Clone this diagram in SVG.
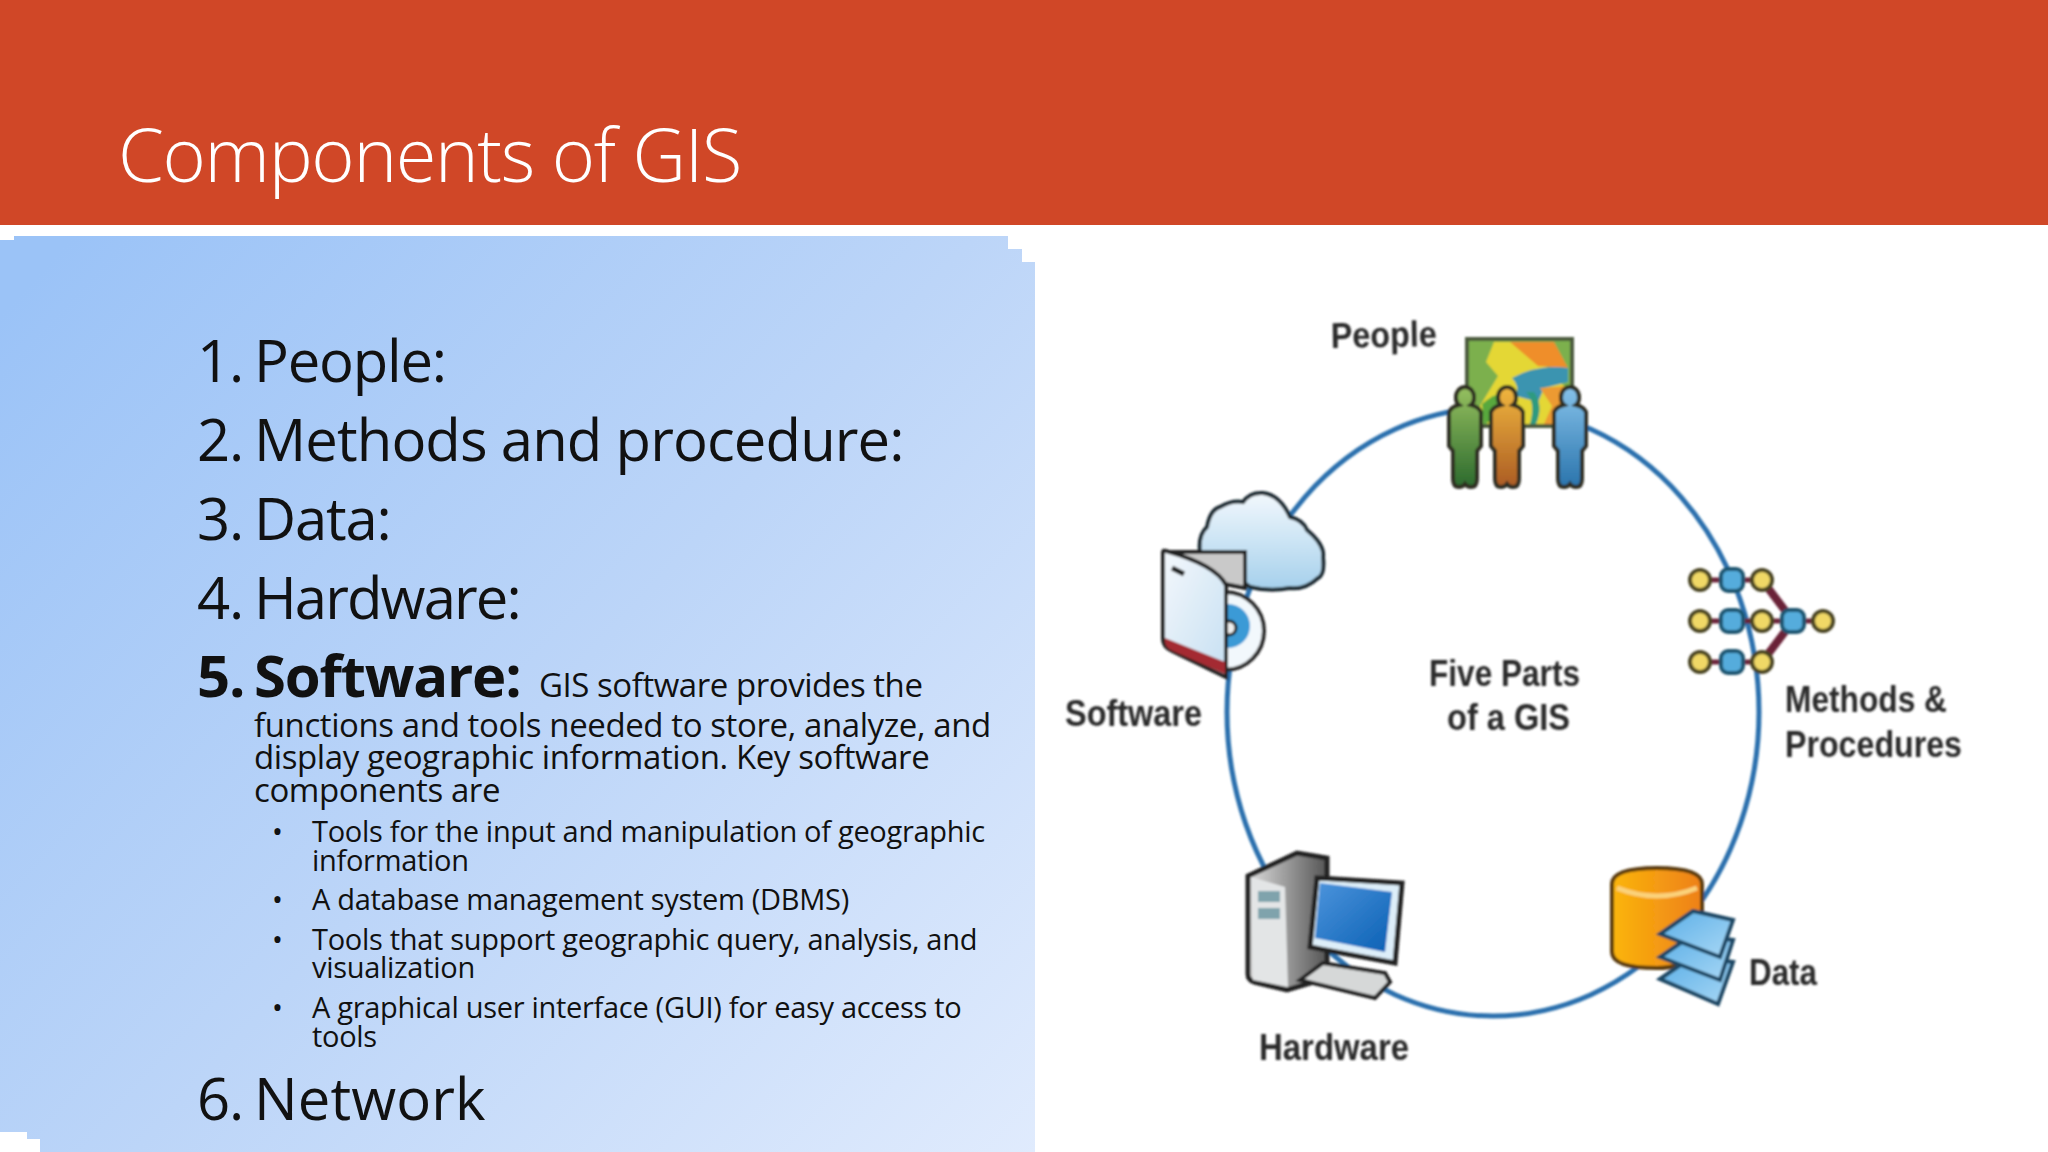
<svg xmlns="http://www.w3.org/2000/svg" width="2048" height="1152" viewBox="0 0 2048 1152">
<defs>
<linearGradient id="panel" gradientUnits="userSpaceOnUse" x1="60" y1="250" x2="1040" y2="1150"><stop offset="0" stop-color="#9bc3f7"/><stop offset="0.5" stop-color="#bcd5f8"/><stop offset="1" stop-color="#e0ebfd"/></linearGradient>
<linearGradient id="cyl" x1="0" x2="1" y1="0" y2="0"><stop offset="0" stop-color="#fbb50c"/><stop offset="1" stop-color="#ee8018"/></linearGradient>
<linearGradient id="sheet" x1="0" x2="1" y1="0" y2="1"><stop offset="0" stop-color="#5aaee6"/><stop offset="1" stop-color="#a9d8f6"/></linearGradient>
<linearGradient id="cloud" x1="0" x2="0" y1="0" y2="1"><stop offset="0" stop-color="#f2f8fd"/><stop offset="1" stop-color="#a5d0ec"/></linearGradient>
<linearGradient id="pg" x1="0" x2="0" y1="0" y2="1"><stop offset="0" stop-color="#96c060"/><stop offset="1" stop-color="#2c6a2e"/></linearGradient>
<linearGradient id="po" x1="0" x2="0" y1="0" y2="1"><stop offset="0" stop-color="#f0b63e"/><stop offset="1" stop-color="#ab5c24"/></linearGradient>
<linearGradient id="pb" x1="0" x2="0" y1="0" y2="1"><stop offset="0" stop-color="#86c2ea"/><stop offset="1" stop-color="#2a74ac"/></linearGradient>
<linearGradient id="screen" x1="0" x2="1" y1="0" y2="1"><stop offset="0" stop-color="#4c94dc"/><stop offset="1" stop-color="#0a60b4"/></linearGradient>
<linearGradient id="tower" x1="0" x2="1" y1="0" y2="0"><stop offset="0" stop-color="#ddd"/><stop offset="1" stop-color="#555"/></linearGradient>
<linearGradient id="box" x1="0" x2="1" y1="0" y2="1"><stop offset="0" stop-color="#f4f8fc"/><stop offset="1" stop-color="#c6dff2"/></linearGradient>
<filter id="soft" x="-5%" y="-5%" width="110%" height="110%"><feGaussianBlur stdDeviation="0.800"/></filter>
<path id="person" d="M0-34a9 10 0 0 1 9 11q0 5-3 7q8 2 10 7l0 34l-4 5l0 28q0 8-6 8q-4 0-6-3q-2 3-6 3q-6 0-6-8l0-28l-4-5l0-34q2-5 10-7q-3-2-3-7a9 10 0 0 1 9-11z" stroke="#2e2e24" stroke-width="4"/>
<circle id="yn" r="10" fill="#f0d866" stroke="#4a4422" stroke-width="4"/>
<rect id="bn" x="-11" y="-11" width="22" height="22" rx="7" fill="#55acdc" stroke="#1f5470" stroke-width="4"/>
</defs>
<style>
.t{font-family:"Open Sans","Noto Sans",sans-serif;fill:#111}
.big{font-size:58px;letter-spacing:-1.200px}
.mid{font-size:33px;letter-spacing:-.400px}
.sm{font-size:29px;letter-spacing:-.300px}
.lab{font-family:"Liberation Sans",Arial,sans-serif;font-weight:700;font-size:36px;fill:#2b2b2b}
</style>
<rect width="2048" height="1152" fill="#fff"/>
<rect id="banner" width="2048" height="225" fill="#d04727"/>
<text x="118" y="182" font-family="'Open Sans','Noto Sans',sans-serif" font-size="74" font-weight="300" fill="#fff" letter-spacing="-1.350">Components of GIS</text>
<path id="panel-bg" d="M0 240H14V236H1008V249H1022V262H1035V1152H40V1139H27V1132H0z" fill="url(#panel)"/>
<g id="list">
<text class="t big" x="197" y="382">1.</text><text class="t big" x="254" y="382">People:</text>
<text class="t big" x="197" y="461">2.</text><text class="t big" x="254" y="461" style="letter-spacing:-.900px">Methods and procedure:</text>
<text class="t big" x="197" y="540">3.</text><text class="t big" x="254" y="540">Data:</text>
<text class="t big" x="197" y="619">4.</text><text class="t big" x="254" y="619" style="letter-spacing:-1.900px">Hardware:</text>
<text class="t big" x="197" y="697" font-weight="700">5.</text><text class="t big" x="254" y="697" font-weight="700">Software:</text>
<text class="t mid" x="539" y="697" style="letter-spacing:-.450px">GIS software provides the</text>
<text class="t mid"><tspan x="254" y="737">functions and tools needed to store, analyze, and</tspan><tspan x="254" y="769">display geographic information. Key software</tspan><tspan x="254" y="802">components are</tspan></text>
<g class="t sm">
<text x="272" y="842">•</text><text><tspan x="312" y="842">Tools for the input and manipulation of geographic</tspan><tspan x="312" y="871">information</tspan></text>
<text x="272" y="910">•</text><text x="312" y="910">A database management system (DBMS)</text>
<text x="272" y="950">•</text><text><tspan x="312" y="950">Tools that support geographic query, analysis, and</tspan><tspan x="312" y="978">visualization</tspan></text>
<text x="272" y="1018">•</text><text><tspan x="312" y="1018">A graphical user interface (GUI) for easy access to</tspan><tspan x="312" y="1047">tools</tspan></text>
</g>
<text class="t big" x="197" y="1120">6.</text><text class="t big" x="254" y="1120" style="letter-spacing:.100px">Network</text>
</g>
<g id="illustration" filter="url(#soft)">
<g id="connectors"><ellipse id="ring" cx="1493" cy="712" rx="266" ry="304" fill="none" stroke="#2a70ad" stroke-width="5"/></g>
<g id="node-people">
<rect x="1467" y="339" width="105" height="87" fill="#7bb04e" stroke="#4c5a3c" stroke-width="4"/>
<path d="M1494 342l-8 20l12 14l-18 30l8 18h84v-30l-20-20l-10-14l-18-18z" fill="#e4d736"/>
<path d="M1510 342h44l14 26l-30-2z" fill="#ef8e2c"/>
<path d="M1512 378q26-14 56-10v14l-24 6l-6 14l-22-6q4-10-4-18z" fill="#3a94b0"/>
<path d="M1540 388l28-2v14l-12 24h-12l8-18z" fill="#ec9a30"/>
<path d="M1482 404q14-12 22-10l6 8l-14 16l-12 6z" fill="#58a83c"/>
<path d="M1526 392q10 10 4 32h6q8-18-2-32z" fill="#2d9a80"/>
<use href="#person" x="1465" y="421" fill="url(#pg)"/><use href="#person" x="1507" y="421" fill="url(#po)"/><use href="#person" x="1570" y="421" fill="url(#pb)"/>
<text class="lab" x="1331" y="348" textLength="106" lengthAdjust="spacingAndGlyphs" transform="rotate(-1 1331 348)">People</text>
</g>
<g id="node-methods">
<path d="M1762 580L1793 621L1762 662" stroke="#6a2238" stroke-width="8" fill="none"/>
<path d="M1700 580H1762M1700 621H1823M1700 662H1762" stroke="#6a2238" stroke-width="5" fill="none"/>
<use href="#yn" x="1700" y="580"/><use href="#bn" x="1732" y="580"/><use href="#yn" x="1762" y="580"/>
<use href="#yn" x="1700" y="621"/><use href="#bn" x="1732" y="621"/><use href="#yn" x="1762" y="621"/><use href="#bn" x="1793" y="621"/><use href="#yn" x="1823" y="621"/>
<use href="#yn" x="1700" y="662"/><use href="#bn" x="1732" y="662"/><use href="#yn" x="1762" y="662"/>
<text class="lab" x="1785" y="712" textLength="162" lengthAdjust="spacingAndGlyphs">Methods &amp;</text><text class="lab" x="1785" y="757" textLength="177" lengthAdjust="spacingAndGlyphs">Procedures</text>
</g>
<g id="node-data">
<path d="M1612 884q0-16 45-16t45 16v70q-20 14-45 14q-45 0-45-16z" fill="url(#cyl)" stroke="#5a3a10" stroke-width="4"/>
<path d="M1617 888q40 16 80 0" fill="none" stroke="#fbd27a" stroke-width="5"/>
<path d="M1660 979l32-22l41 5l-15 42z" fill="url(#sheet)" stroke="#1e4664" stroke-width="4"/>
<path d="M1660 957l32-22l41 5l-13 40z" fill="url(#sheet)" stroke="#1e4664" stroke-width="4"/>
<path d="M1660 934l33-23l40 9l-13 37z" fill="url(#sheet)" stroke="#1e4664" stroke-width="4"/>
<text class="lab" x="1749" y="985" textLength="68" lengthAdjust="spacingAndGlyphs">Data</text>
</g>
<g id="node-hardware">
<path d="M1248 876l49-23l30 5v120l-40 12l-33-8q-6-2-6-8z" fill="url(#tower)" stroke="#222" stroke-width="5"/>
<path d="M1251 877l34 10l3 100l-35-7z" fill="#e3e5e6"/><rect x="1258" y="891" width="22" height="11" fill="#7fa3ac"/><rect x="1258" y="908" width="22" height="11" fill="#7fa3ac"/>
<path d="M1317 878l85 5l-7 80l-85-16z" fill="#ddeef9" stroke="#222" stroke-width="5"/><path d="M1320 883l72 9l-7 60l-70-14z" fill="url(#screen)"/>
<path d="M1300 980l23-17l62 10l5 9l-15 16z" fill="#d6d8d8" stroke="#222" stroke-width="4"/>
<text class="lab" x="1259" y="1060" textLength="150" lengthAdjust="spacingAndGlyphs">Hardware</text>
</g>
<g id="node-software">
<path d="M1200 552Q1198 535 1207 527Q1210 510 1220 507Q1232 500 1243 502Q1250 492 1263 493Q1280 495 1290 517Q1303 520 1307 530Q1325 545 1323 557Q1325 575 1318 578Q1305 590 1290 588Q1270 592 1250 587z" fill="url(#cloud)" stroke="#1d2b33" stroke-width="4"/>
<circle cx="1225" cy="631" r="39" fill="#f2f8fc" stroke="#2b2b2b" stroke-width="4"/><circle cx="1228" cy="626" r="22" fill="#3a9ad6"/><circle cx="1229" cy="628" r="7" fill="#eee" stroke="#222" stroke-width="3"/>
<path d="M1165 552h80v36l-20-4z" fill="#c9c9c9" stroke="#222" stroke-width="4"/>
<path d="M1163 552q0-2 3-1q50 14 60 34v92l-54-26q-9-4-9-12z" fill="url(#box)" stroke="#222" stroke-width="4"/>
<path d="M1165 638l60 24v12l-50-22q-10-4-10-10z" fill="#a42b31"/>
<path d="M1172 568l12 6" stroke="#222" stroke-width="5"/>
<text class="lab" x="1065" y="726" textLength="137" lengthAdjust="spacingAndGlyphs">Software</text>
</g>
<g id="center-label"><text class="lab" x="1429" y="686" textLength="151" lengthAdjust="spacingAndGlyphs">Five Parts</text><text class="lab" x="1447" y="730" textLength="123" lengthAdjust="spacingAndGlyphs">of a GIS</text></g>
</g>
</svg>
